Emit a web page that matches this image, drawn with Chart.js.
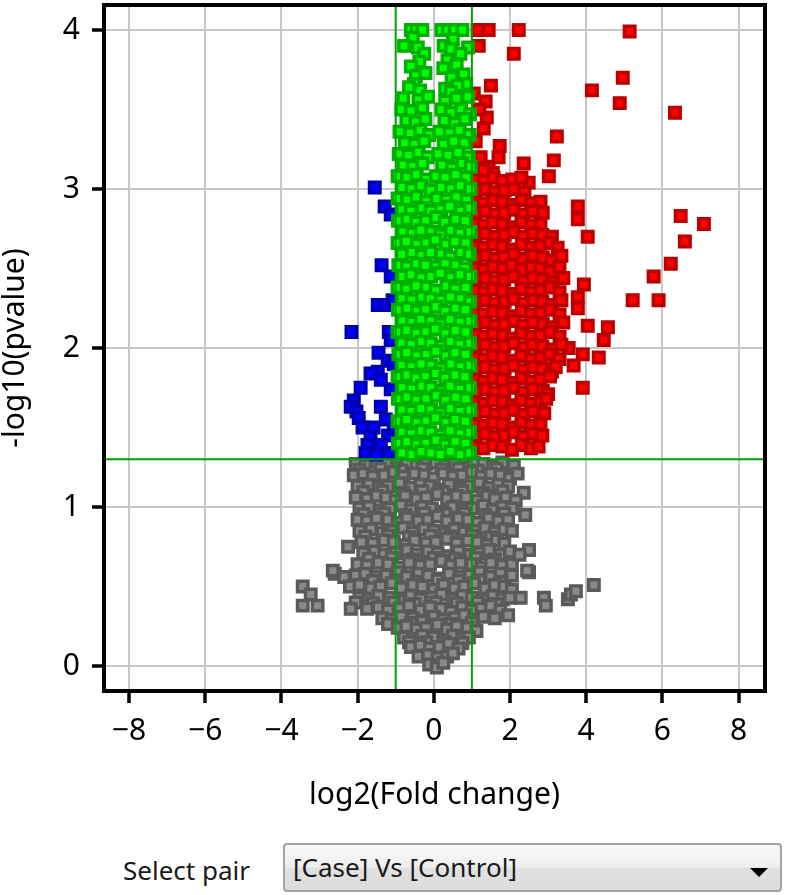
<!DOCTYPE html>
<html lang="en">
  <head>
    <meta charset="UTF-8" />
    <title>Volcano plot</title>
    <script src="https://cdn.jsdelivr.net/npm/chart.js"></script>
    <style>
      body { margin: 0; background: #fff; overflow: hidden; }
      .page { position: relative; width: 785px; height: 895px; font-family: "Noto Sans", sans-serif; }
      #volcano { position: absolute; left: 0; top: 0; }
      .pair-label { position: absolute; left: 123px; top: 852px; font-size: 26px; line-height: 36px; color: #1a1a1a; }
      .pair-select {
        position: absolute; left: 283px; top: 843px; width: 499px; height: 49px;
        box-sizing: border-box; border: 2px solid #a3a3a3; border-radius: 4px;
        background: linear-gradient(to bottom, #f8f8f8 0%, #efefef 48%, #e1e1e1 52%, #dcdcdc 100%);
      }
      .pair-select span { position: absolute; left: 8px; top: 0; font-size: 26px; line-height: 44px; color: #1a1a1a; }
      .pair-select i {
        position: absolute; left: 465px; top: 23px; width: 0; height: 0;
        border-left: 9px solid transparent; border-right: 9px solid transparent; border-top: 9px solid #000;
      }
    </style>
  </head>

  <body>
    <div class="page">
      <canvas id="volcano" width="785" height="830"></canvas>
      <div class="pair-label">Select pair</div>
      <div class="pair-select"><span>[Case] Vs [Control]</span><i></i></div>
    </div>

    <script>
      // axes
      const xTicks = [-8, -6, -4, -2, 0, 2, 4, 6, 8];
      const yTicks = [0, 1, 2, 3, 4];
      const xRange = [-8.656, 8.693];
      const yRange = [-0.157, 4.157];
      const foldCut = 1;
      const pCut = 1.3;

      // down regulated (blue)
      const downPoints = [
        [-1.55,3.01],[-1.29,2.89],[-1.13,2.84],[-1.37,2.52],[-1.13,2.45],[-1.47,2.27],[-1.26,2.27],[-1.08,2.3],
        [-2.16,2.1],[-1.18,2.1],[-1.13,2.05],[-1.45,1.97],[-1.21,1.92],[-1.47,1.85],[-1.66,1.84],[-1.39,1.8],
        [-1.92,1.75],[-1.13,1.74],[-2.1,1.67],[-1.39,1.63],[-2.18,1.63],[-2.03,1.6],[-1.97,1.56],[-1.26,1.55],
        [-1.87,1.5],[-1.58,1.5],[-1.66,1.44],[-1.2,1.45],[-1.74,1.39],[-1.39,1.39],[-1.79,1.34],[-1.18,1.34],
        [-1.5,1.33],[-1.05,1.5],[-1.05,1.9]
      ];

      // significant, small fold change (green)
      const sigPoints = [
        [-0.6,4.0],[-0.45,4.0],[-0.3,4.0],[0.2,4.0],[0.37,4.0],[0.55,4.0],[0.75,4.0],
        [-0.55,3.95],[0.5,3.94],[-0.78,3.9],[-0.42,3.89],[0.26,3.9],[0.45,3.88],[0.9,3.89],
        [0.7,3.85],[-0.25,3.85],[-0.38,3.8],[0.36,3.81],[0.6,3.78],[-0.6,3.77],[0.25,3.76],
        [-0.47,3.71],[-0.22,3.73],[0.47,3.7],[0.78,3.72],[0.85,3.66],[-0.52,3.66],
        [-0.65,3.64],[-0.36,3.62],[0.3,3.63],[0.62,3.65],[0.45,3.61],
        [-0.8,3.57],[-0.4,3.56],[-0.15,3.58],[0.3,3.55],[0.6,3.57],[0.9,3.58],
        [-0.85,3.5],[-0.6,3.49],[-0.3,3.51],[0.2,3.5],[0.45,3.48],[0.72,3.5],[0.95,3.47],
        [-0.72,3.43],[-0.48,3.42],[-0.22,3.44],[0.28,3.43],[0.55,3.41],[0.82,3.44],
        [-0.9,3.36],[-0.62,3.35],[-0.35,3.37],[-0.12,3.34],[0.15,3.36],[0.42,3.35],[0.68,3.37],[0.94,3.34],
        [-0.76,3.29],[-0.5,3.28],[-0.25,3.3],[0.26,3.28],[0.52,3.3],[0.8,3.29],
        [-0.92,3.22],[-0.66,3.21],[-0.4,3.23],[-0.16,3.2],[0.12,3.22],[0.38,3.21],[0.64,3.23],[0.92,3.2],
        [-0.8,3.15],[-0.55,3.14],[-0.3,3.16],[0.22,3.15],[0.48,3.13],[0.75,3.16],[0.97,3.14],
        [-0.95,3.08],[-0.7,3.07],[-0.45,3.09],[-0.2,3.06],[0.06,3.08],[0.3,3.07],[0.58,3.09],[0.85,3.07],
        [-0.83,3.01],[-0.58,3.0],[-0.33,3.02],[-0.08,2.99],[0.2,3.01],[0.45,3.0],[0.7,3.02],[0.96,3.0],
        [-0.95,2.94],[-0.7,2.93],[-0.45,2.95],[-0.2,2.92],[0.08,2.94],[0.33,2.93],[0.6,2.95],[0.86,2.93],
        [-0.83,2.87],[-0.6,2.86],[-0.31,2.88],[-0.08,2.86],[0.19,2.87],[0.42,2.89],[0.71,2.86],[0.95,2.88],
        [-0.94,2.8],[-0.69,2.81],[-0.46,2.79],[-0.21,2.8],[0.06,2.82],[0.29,2.79],[0.58,2.81],[0.83,2.8],
        [-0.81,2.73],[-0.56,2.72],[-0.34,2.74],[-0.06,2.73],[0.17,2.71],[0.45,2.74],[0.69,2.72],[0.96,2.73],
        [-0.95,2.66],[-0.72,2.67],[-0.44,2.65],[-0.19,2.66],[0.04,2.68],[0.32,2.65],[0.56,2.67],[0.84,2.66],
        [-0.84,2.59],[-0.57,2.6],[-0.32,2.58],[-0.09,2.6],[0.2,2.59],[0.43,2.57],[0.72,2.6],[0.94,2.59],
        [-0.93,2.52],[-0.7,2.51],[-0.45,2.53],[-0.22,2.52],[0.07,2.51],[0.3,2.53],[0.58,2.52],[0.82,2.5],
        [-0.82,2.45],[-0.59,2.46],[-0.33,2.44],[-0.07,2.45],[0.17,2.47],[0.45,2.44],[0.69,2.46],[0.96,2.45],
        [-0.95,2.38],[-0.71,2.37],[-0.46,2.39],[-0.19,2.38],[0.05,2.36],[0.33,2.39],[0.56,2.37],[0.84,2.38],
        [-0.83,2.31],[-0.58,2.3],[-0.31,2.32],[-0.09,2.31],[0.19,2.3],[0.44,2.32],[0.71,2.31],[0.95,2.29],
        [-0.94,2.24],[-0.69,2.25],[-0.44,2.23],[-0.21,2.24],[0.06,2.26],[0.3,2.23],[0.58,2.25],[0.83,2.24],
        [-0.82,2.17],[-0.57,2.16],[-0.34,2.18],[-0.07,2.17],[0.18,2.15],[0.43,2.18],[0.7,2.16],[0.96,2.17],
        [-0.95,2.1],[-0.7,2.11],[-0.45,2.09],[-0.2,2.1],[0.04,2.12],[0.31,2.09],[0.57,2.11],[0.84,2.1],
        [-0.84,2.03],[-0.59,2.02],[-0.32,2.04],[-0.08,2.03],[0.19,2.01],[0.44,2.04],[0.69,2.02],[0.95,2.03],
        [-0.93,1.96],[-0.71,1.97],[-0.44,1.95],[-0.19,1.96],[0.06,1.98],[0.32,1.95],[0.56,1.97],[0.83,1.96],
        [-0.83,1.89],[-0.58,1.88],[-0.33,1.9],[-0.06,1.89],[0.18,1.87],[0.45,1.9],[0.71,1.88],[0.96,1.89],
        [-0.95,1.82],[-0.7,1.83],[-0.46,1.81],[-0.21,1.82],[0.05,1.84],[0.3,1.81],[0.57,1.83],[0.82,1.82],
        [-0.82,1.75],[-0.57,1.74],[-0.31,1.76],[-0.08,1.75],[0.2,1.73],[0.43,1.76],[0.7,1.74],[0.95,1.75],
        [-0.94,1.68],[-0.69,1.69],[-0.45,1.67],[-0.2,1.68],[0.07,1.7],[0.31,1.67],[0.58,1.69],[0.84,1.68],
        [-0.83,1.61],[-0.58,1.6],[-0.34,1.62],[-0.07,1.61],[0.17,1.59],[0.44,1.62],[0.69,1.6],[0.96,1.61],
        [-0.95,1.54],[-0.71,1.55],[-0.44,1.53],[-0.19,1.54],[0.05,1.56],[0.32,1.53],[0.57,1.55],[0.83,1.54],
        [-0.82,1.47],[-0.59,1.46],[-0.32,1.48],[-0.09,1.47],[0.19,1.45],[0.43,1.48],[0.7,1.46],[0.95,1.47],
        [-0.94,1.4],[-0.7,1.41],[-0.45,1.39],[-0.2,1.4],[0.06,1.42],[0.31,1.39],[0.56,1.41],[0.84,1.4],
        [-0.83,1.34],[-0.57,1.33],[-0.33,1.35],[-0.07,1.34],[0.18,1.33],[0.44,1.35],[0.71,1.33],[0.95,1.34]
      ];

      // up regulated (red)
      const upPoints = [
        [1.15,4.0],[1.44,4.0],[2.23,4.0],[5.14,3.99],[1.18,3.9],[2.1,3.85],[1.5,3.65],[4.96,3.7],
        [4.15,3.62],[4.88,3.54],[6.33,3.48],[1.36,3.55],[1.39,3.45],[1.31,3.38],[3.23,3.33],[1.73,3.27],
        [3.15,3.18],[2.36,3.16],[3.02,3.08],[1.44,3.14],[2.49,3.04],[3.78,2.89],[3.78,2.81],[4.04,2.7],
        [6.48,2.83],[7.09,2.78],[6.59,2.67],[1.23,3.2],[1.05,3.6],[1.2,3.5],[1.1,3.3],[6.22,2.53],
        [5.77,2.45],[5.22,2.3],[5.9,2.3],[4.57,2.13],[4.46,2.05],[4.04,2.14],[4.33,1.94],[3.91,1.96],
        [3.67,1.89],[3.91,1.75],[3.54,2.0],[3.78,2.32],[3.78,2.25],[3.94,2.4],[1.7,3.2],[1.55,3.1],
        [1.05,3.13],[1.3,3.12],
        [1.06,3.06],[1.31,3.05],[1.57,3.07],[1.8,3.05],[2.06,3.06],[2.3,3.07],
        [1.1,2.99],[1.36,3.0],[1.6,2.98],[1.86,2.99],[2.1,3.0],[2.38,2.98],
        [1.05,2.92],[1.3,2.91],[1.56,2.93],[1.8,2.92],[2.06,2.9],[2.31,2.93],[2.56,2.91],[2.8,2.92],
        [1.1,2.85],[1.35,2.86],[1.61,2.84],[1.85,2.85],[2.1,2.87],[2.36,2.84],[2.6,2.86],[2.86,2.85],
        [1.05,2.78],[1.31,2.77],[1.55,2.79],[1.81,2.78],[2.05,2.76],[2.3,2.79],[2.56,2.77],[2.8,2.78],
        [1.1,2.71],[1.35,2.72],[1.6,2.7],[1.86,2.71],[2.1,2.73],[2.35,2.7],[2.61,2.72],[2.85,2.71],[3.1,2.7],
        [1.05,2.64],[1.3,2.63],[1.56,2.65],[1.8,2.64],[2.05,2.62],[2.31,2.65],[2.55,2.63],[2.8,2.64],[3.05,2.66],[3.25,2.63],
        [1.1,2.57],[1.36,2.58],[1.6,2.56],[1.85,2.57],[2.11,2.59],[2.35,2.56],[2.6,2.58],[2.86,2.57],[3.1,2.55],[3.35,2.58],
        [1.05,2.5],[1.3,2.49],[1.55,2.51],[1.81,2.5],[2.05,2.52],[2.3,2.49],[2.56,2.51],[2.8,2.5],[3.05,2.48],[3.3,2.51],
        [1.1,2.43],[1.35,2.44],[1.61,2.42],[1.85,2.43],[2.1,2.45],[2.36,2.42],[2.6,2.44],[2.85,2.43],[3.11,2.41],[3.4,2.44],
        [1.05,2.36],[1.31,2.35],[1.55,2.37],[1.8,2.36],[2.06,2.34],[2.3,2.37],[2.55,2.35],[2.81,2.36],[3.05,2.38],[3.3,2.35],
        [1.1,2.29],[1.35,2.3],[1.6,2.28],[1.86,2.29],[2.1,2.31],[2.35,2.28],[2.61,2.3],[2.85,2.29],[3.1,2.27],[3.35,2.3],
        [1.05,2.22],[1.3,2.21],[1.56,2.23],[1.8,2.22],[2.05,2.2],[2.31,2.23],[2.55,2.21],[2.8,2.22],[3.06,2.24],[3.3,2.21],
        [1.1,2.15],[1.36,2.16],[1.6,2.14],[1.85,2.15],[2.11,2.17],[2.35,2.14],[2.6,2.16],[2.86,2.15],[3.1,2.13],[3.4,2.16],
        [1.05,2.08],[1.3,2.07],[1.55,2.09],[1.81,2.08],[2.05,2.06],[2.3,2.09],[2.56,2.07],[2.8,2.08],[3.05,2.1],[3.3,2.07],
        [1.1,2.01],[1.35,2.02],[1.61,2.0],[1.85,2.01],[2.1,2.03],[2.36,2.0],[2.6,2.02],[2.85,2.01],[3.11,1.99],[3.35,2.02],
        [1.05,1.94],[1.31,1.93],[1.55,1.95],[1.8,1.94],[2.06,1.92],[2.3,1.95],[2.55,1.93],[2.81,1.94],[3.05,1.96],[3.3,1.93],
        [1.1,1.87],[1.35,1.88],[1.6,1.86],[1.86,1.87],[2.1,1.89],[2.35,1.86],[2.61,1.88],[2.85,1.87],[3.1,1.85],[3.2,1.88],
        [1.05,1.8],[1.3,1.79],[1.56,1.81],[1.8,1.8],[2.05,1.78],[2.31,1.81],[2.55,1.79],[2.8,1.8],[3.05,1.82],
        [1.1,1.73],[1.36,1.74],[1.6,1.72],[1.85,1.73],[2.11,1.75],[2.35,1.72],[2.6,1.74],[2.86,1.73],[3.0,1.71],
        [1.05,1.66],[1.3,1.65],[1.55,1.67],[1.81,1.66],[2.05,1.64],[2.3,1.67],[2.56,1.65],[2.8,1.66],[2.95,1.68],
        [1.1,1.59],[1.35,1.6],[1.61,1.58],[1.85,1.59],[2.1,1.61],[2.36,1.58],[2.6,1.6],[2.9,1.59],
        [1.05,1.52],[1.31,1.51],[1.55,1.53],[1.8,1.52],[2.06,1.5],[2.3,1.53],[2.55,1.51],[2.8,1.52],
        [1.1,1.45],[1.35,1.46],[1.6,1.44],[1.86,1.45],[2.1,1.47],[2.35,1.44],[2.61,1.46],[2.85,1.45],
        [1.05,1.38],[1.3,1.37],[1.56,1.39],[1.8,1.38],[2.05,1.36],[2.31,1.39],[2.55,1.37],[2.75,1.38]
      ];

      // not significant (gray)
      const nsPoints = [
        [-2.05,1.27],[-1.8,1.26],[-1.5,1.28],[-1.25,1.27],[-0.95,1.25],[-0.7,1.28],[-0.45,1.26],[-0.2,1.27],[0.05,1.28],
        [0.3,1.26],[0.55,1.27],[0.8,1.25],[1.05,1.28],[1.3,1.27],[1.55,1.26],[1.8,1.28],[2.1,1.26],
        [-1.95,1.235],[-1.4,1.24],[-0.85,1.23],[-0.3,1.24],[0.2,1.235],[0.65,1.24],[1.15,1.23],[1.65,1.24],
        [-2.1,1.2],[-1.85,1.21],[-1.6,1.19],[-1.3,1.2],[-1.05,1.22],[-0.8,1.19],[-0.5,1.21],[-0.25,1.2],[0.0,1.18],
        [0.25,1.21],[0.5,1.19],[0.75,1.2],[1.0,1.22],[1.25,1.19],[1.5,1.21],[1.75,1.2],[2.0,1.18],[2.2,1.21],
        [-2.0,1.13],[-1.7,1.14],[-1.45,1.12],[-1.2,1.13],[-0.9,1.15],[-0.6,1.12],[-0.35,1.14],[-0.1,1.13],[0.15,1.11],
        [0.4,1.14],[0.7,1.12],[0.95,1.13],[1.2,1.15],[1.45,1.12],[1.7,1.14],[1.95,1.13],[2.36,1.09],
        [-1.85,1.095],[-1.35,1.1],[-0.8,1.09],[-0.3,1.1],[0.25,1.095],[0.75,1.1],[1.3,1.09],[1.8,1.1],
        [-2.05,1.06],[-1.75,1.05],[-1.5,1.07],[-1.25,1.06],[-1.0,1.04],[-0.75,1.07],[-0.45,1.05],[-0.2,1.06],[0.1,1.08],
        [0.35,1.05],[0.6,1.07],[0.85,1.06],[1.15,1.04],[1.4,1.07],[1.6,1.05],[1.9,1.06],[2.15,1.04],
        [-1.95,0.99],[-1.7,1.0],[-1.4,0.98],[-1.15,0.99],[-0.85,1.01],[-0.6,0.98],[-0.3,1.0],[-0.05,0.99],
        [0.2,0.97],[0.5,1.0],[0.75,0.98],[1.0,0.99],[1.3,1.01],[1.55,0.98],[1.8,1.0],[2.05,0.99],
        [-1.85,0.955],[-1.3,0.96],[-0.75,0.95],[-0.25,0.96],[0.3,0.955],[0.8,0.96],[1.35,0.95],[1.85,0.96],
        [-2.0,0.92],[-1.75,0.91],[-1.5,0.93],[-1.2,0.92],[-0.95,0.9],[-0.7,0.93],[-0.4,0.91],[-0.15,0.92],
        [0.1,0.94],[0.35,0.91],[0.65,0.93],[0.9,0.92],[1.15,0.9],[1.45,0.93],[1.7,0.91],[1.95,0.92],
        [-1.95,0.85],[-1.65,0.86],[-1.35,0.84],[-1.1,0.85],[-0.8,0.87],[-0.55,0.84],[-0.25,0.86],[0.0,0.85],
        [0.3,0.83],[0.55,0.86],[0.8,0.84],[1.1,0.85],[1.35,0.87],[1.6,0.84],[1.85,0.86],[2.05,0.85],
        [-1.8,0.815],[-1.2,0.82],[-0.65,0.81],[-0.1,0.82],[0.45,0.815],[1.0,0.82],[1.5,0.81],
        [-2.25,0.75],[-1.9,0.78],[-1.6,0.77],[-1.3,0.79],[-1.05,0.78],[-0.75,0.76],[-0.5,0.79],[-0.2,0.77],[0.05,0.78],
        [0.35,0.8],[0.6,0.77],[0.9,0.79],[1.15,0.78],[1.4,0.76],[1.65,0.79],[1.85,0.77],[2.5,0.73],
        [-1.85,0.71],[-1.55,0.72],[-1.3,0.7],[-1.0,0.71],[-0.7,0.73],[-0.45,0.7],[-0.15,0.72],[0.1,0.71],
        [0.4,0.69],[0.65,0.72],[0.95,0.7],[1.2,0.71],[1.45,0.73],[1.75,0.7],[2.0,0.72],
        [-1.7,0.675],[-1.1,0.68],[-0.55,0.67],[0.0,0.68],[0.55,0.675],[1.1,0.68],[1.6,0.67],
        [-2.0,0.64],[-1.75,0.63],[-1.45,0.65],[-1.2,0.64],[-0.9,0.62],[-0.65,0.65],[-0.35,0.63],[-0.1,0.64],
        [0.2,0.66],[0.45,0.63],[0.7,0.65],[1.0,0.64],[1.25,0.62],[1.5,0.65],[1.8,0.63],[2.05,0.64],
        [-2.6,0.58],[-2.35,0.56],[-2.05,0.57],[-1.8,0.58],[-1.5,0.56],[-1.25,0.57],[-0.95,0.59],[-0.7,0.56],[-0.4,0.58],
        [-0.15,0.57],[0.15,0.55],[0.4,0.58],[0.7,0.56],[0.95,0.57],[1.2,0.59],[1.5,0.56],[1.75,0.58],[2.05,0.57],[2.5,0.59],
        [-1.6,0.535],[-1.0,0.54],[-0.45,0.53],[0.1,0.54],[0.65,0.535],[1.2,0.54],[1.75,0.53],
        [-2.2,0.5],[-1.95,0.51],[-1.65,0.49],[-1.4,0.5],[-1.1,0.52],[-0.85,0.49],[-0.55,0.51],[-0.3,0.5],[0.0,0.48],
        [0.25,0.51],[0.55,0.49],[0.8,0.5],[1.05,0.52],[1.35,0.49],[1.6,0.51],[1.85,0.5],[2.05,0.48],
        [-1.95,0.43],[-1.7,0.42],[-1.45,0.44],[-1.15,0.43],[-0.9,0.41],[-0.6,0.44],[-0.35,0.42],[-0.05,0.43],
        [0.2,0.45],[0.5,0.42],[0.75,0.44],[1.0,0.43],[1.3,0.41],[1.55,0.44],[1.8,0.42],[2.0,0.43],
        [-1.6,0.395],[-1.05,0.4],[-0.5,0.39],[0.05,0.4],[0.6,0.395],[1.15,0.4],[1.65,0.39],
        [-1.75,0.36],[-1.45,0.37],[-1.2,0.35],[-0.9,0.36],[-0.65,0.38],[-0.35,0.35],[-0.1,0.37],[0.2,0.36],
        [0.45,0.34],[0.75,0.37],[1.0,0.35],[1.25,0.36],[1.5,0.38],[1.75,0.35],[1.95,0.32],
        [-1.35,0.3],[-1.1,0.29],[-0.85,0.31],[-0.55,0.3],[-0.3,0.28],[0.0,0.31],[0.25,0.29],[0.55,0.3],
        [0.8,0.32],[1.05,0.29],[1.3,0.31],[1.6,0.3],
        [-1.2,0.265],[-0.6,0.27],[-0.05,0.26],[0.45,0.265],[1.0,0.27],
        [-0.95,0.24],[-0.72,0.25],[-0.45,0.23],[-0.2,0.24],[0.1,0.26],[0.35,0.23],[0.6,0.25],[0.88,0.24],[1.12,0.22],
        [-0.78,0.18],[-0.55,0.17],[-0.3,0.19],[0.0,0.18],[0.25,0.16],[0.5,0.19],[0.75,0.17],[0.92,0.18],
        [-0.65,0.15],[-0.2,0.15],[0.3,0.15],[0.75,0.145],
        [-0.6,0.12],[-0.35,0.13],[-0.1,0.11],[0.15,0.12],[0.4,0.14],[0.65,0.11],
        [-0.4,0.06],[-0.15,0.07],[0.1,0.05],[0.35,0.06],[0.5,0.08],
        [-0.12,0.01],[0.08,-0.01],[0.25,0.02],
        [-3.44,0.5],[-3.23,0.45],[-3.44,0.38],[-3.05,0.38],[-2.05,0.4],[-2.18,0.36],[-2.65,0.6],
        [2.28,0.43],[2.89,0.43],[2.94,0.38],[3.52,0.42],[3.6,0.45],[3.73,0.47],[4.2,0.51],
        [2.25,0.7],[2.4,0.95],[2.45,0.6]
      ];

      const toXY = (pts) => pts.map(([x, y]) => ({ x, y }));

      function squares(label, pts, fill, edge, order) {
        return {
          label,
          data: toXY(pts),
          pointStyle: "rect",
          pointRadius: 7.4,
          pointBackgroundColor: fill,
          pointBorderColor: edge,
          pointBorderWidth: 3.5,
          order,
        };
      }

      function cutLine(pts) {
        return {
          type: "line",
          data: toXY(pts),
          borderColor: "#00a000",
          borderWidth: 2,
          pointRadius: 0,
          fill: false,
          order: 0,
        };
      }

      const tickFont = { family: "'Noto Sans', sans-serif", size: 30 };
      const titleFont = { family: "'Noto Sans', sans-serif", size: 30, lineHeight: 1 };

      // keep the plot area where the picture has it
      function noEdgePadding(s) {
        s.paddingTop = 0;
        s.paddingBottom = 0;
        s.paddingLeft = 0;
        s.paddingRight = 0;
      }

      // frame round the plot area
      const frame = {
        id: "frame",
        afterDatasetsDraw(chart) {
          const { ctx, chartArea: a } = chart;
          ctx.save();
          ctx.strokeStyle = "#000";
          ctx.lineWidth = 4;
          ctx.strokeRect(a.left, a.top, a.right - a.left, a.bottom - a.top);
          ctx.restore();
        },
      };

      new Chart(document.getElementById("volcano"), {
        type: "scatter",
        data: {
          datasets: [
            squares("Not significant", nsPoints, "#8a8a8a", "#5a5a5a", 5),
            squares("Down", downPoints, "#0000ff", "#0000b0", 4),
            squares("Up", upPoints, "#ff0000", "#bb0000", 3),
            squares("Significant", sigPoints, "#00ff00", "#00b000", 2),
            cutLine([[-foldCut, yRange[0]], [-foldCut, yRange[1]]]),
            cutLine([[foldCut, yRange[0]], [foldCut, yRange[1]]]),
            cutLine([[xRange[0], pCut], [xRange[1], pCut]]),
          ],
        },
        options: {
          responsive: false,
          animation: false,
          events: [],
          layout: { autoPadding: false, padding: { top: 5, right: 20, left: 0, bottom: 0 } },
          plugins: { legend: { display: false }, tooltip: { enabled: false } },
          scales: {
            x: {
              type: "linear",
              position: "bottom",
              min: xRange[0],
              max: xRange[1],
              afterBuildTicks: (s) => { s.ticks = xTicks.map((v) => ({ value: v })); },
              afterFit: (s) => { s.height = 139; noEdgePadding(s); },
              ticks: {
                font: tickFont,
                color: "#000",
                padding: 10,
                autoSkip: false,
                maxRotation: 0,
                callback: (v) => (v < 0 ? "\u2212" + Math.abs(v) : String(v)),
              },
              grid: { color: "#c8c8c8", lineWidth: 2, tickColor: "#000", tickWidth: 3.5, tickLength: 12 },
              border: { display: false },
              title: { display: true, text: "log2(Fold change)", font: titleFont, color: "#000", padding: { top: 0, bottom: 20 } },
            },
            y: {
              type: "linear",
              min: yRange[0],
              max: yRange[1],
              afterBuildTicks: (s) => { s.ticks = yTicks.map((v) => ({ value: v })); },
              afterFit: (s) => { s.width = 104; noEdgePadding(s); },
              ticks: { font: tickFont, color: "#000", padding: 12 },
              grid: { color: "#c8c8c8", lineWidth: 2, tickColor: "#000", tickWidth: 3.5, tickLength: 12 },
              border: { display: false },
              title: { display: true, text: "-log10(pvalue)", font: titleFont, color: "#000", padding: { top: 0, bottom: 0 } },
            },
          },
        },
        plugins: [frame],
      });
    </script>
  </body>
</html>
